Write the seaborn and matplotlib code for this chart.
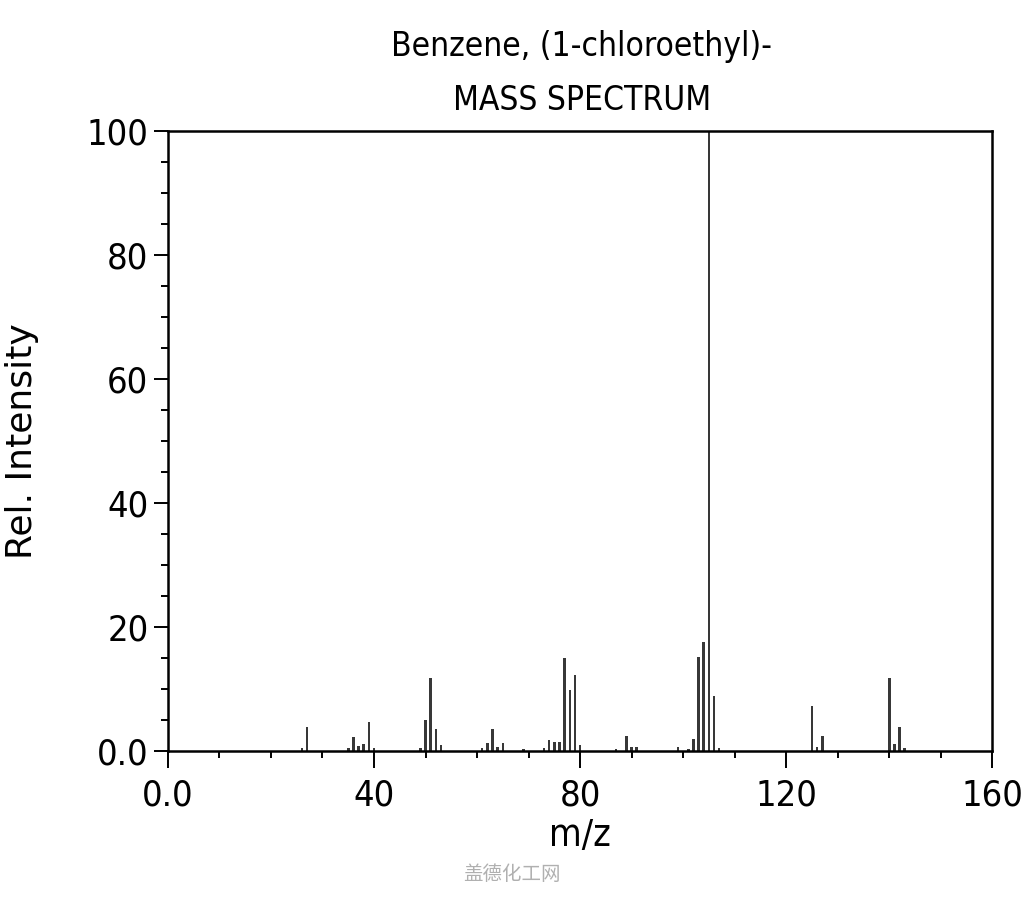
import matplotlib
matplotlib.use("Agg")
import matplotlib.pyplot as plt
from matplotlib.ticker import MultipleLocator, FixedLocator, FixedFormatter
import seaborn as sns

# m/z peaks
mz = [26, 27, 35, 36, 37, 38, 39, 40, 49, 50, 51, 52, 53, 61, 62, 63, 64, 65,
      69, 73, 74, 75, 76, 77, 78, 79, 80, 87, 89, 90, 91, 99, 101, 102, 103,
      104, 105, 106, 107, 125, 126, 127, 140, 141, 142, 143]
intensity = [0.5, 3.8, 0.5, 2.2, 0.8, 1.2, 4.6, 0.5, 0.5, 5.0, 11.8, 3.5, 1.0,
             0.5, 1.3, 3.6, 0.7, 1.3, 0.3, 0.5, 1.8, 1.5, 1.5, 15.0, 9.8, 12.3,
             1.0, 0.3, 2.4, 0.7, 0.7, 0.7, 0.3, 2.0, 15.1, 17.5, 100.0, 8.9,
             0.5, 7.3, 0.6, 2.4, 11.7, 1.2, 3.9, 0.4]

x_ticks = [0, 40, 80, 120, 160]
x_labels = ["0.0", "40", "80", "120", "160"]
y_ticks = [0, 20, 40, 60, 80, 100]
y_labels = ["0.0", "20", "40", "60", "80", "100"]

sns.set_style("ticks")
plt.rcParams['font.family'] = ['DejaVu Sans', 'Noto Sans CJK SC']
plt.rcParams['text.color'] = 'black'
plt.rcParams['axes.labelcolor'] = 'black'
plt.rcParams['xtick.color'] = 'black'
plt.rcParams['ytick.color'] = 'black'
cond = dict(fontstretch='condensed')

fig = plt.figure(figsize=(10.24, 9), dpi=100)
ax = fig.add_axes([0.164, 0.1656, 0.805, 0.6889])

sns.barplot(x=mz, y=intensity, native_scale=True, width=0.5, color='#383838',
            saturation=1, linewidth=0, errorbar=None, ax=ax)

ax.set_xlim(0, 160)
ax.set_ylim(0, 100)
ax.xaxis.set_major_locator(FixedLocator(x_ticks))
ax.xaxis.set_major_formatter(FixedFormatter(x_labels))
ax.xaxis.set_minor_locator(MultipleLocator(10))
ax.yaxis.set_major_locator(FixedLocator(y_ticks))
ax.yaxis.set_major_formatter(FixedFormatter(y_labels))
ax.yaxis.set_minor_locator(MultipleLocator(5))

for s in ax.spines.values():
    s.set_visible(True)
    s.set_linewidth(1.8)
    s.set_color('black')

ax.tick_params(axis='x', which='major', length=12, width=1.4, direction='out',
               labelsize=26, pad=8)
ax.tick_params(axis='x', which='minor', length=5, width=1.4, direction='out')
ax.tick_params(axis='y', which='major', length=10, width=1.4, direction='out',
               labelsize=26, pad=4)
ax.tick_params(axis='y', which='minor', length=5, width=1.4, direction='out')
for lab in ax.get_xticklabels() + ax.get_yticklabels():
    lab.set_fontstretch('condensed')

ax.set_xlabel("m/z", fontsize=27, labelpad=4, **cond)
ax.set_ylabel("Rel. Intensity", fontsize=26, labelpad=34)

fig.text(0.568, 0.948, "Benzene, (1-chloroethyl)-", ha='center', va='center',
         fontsize=24, **cond)
fig.text(0.568, 0.888, "MASS SPECTRUM", ha='center', va='center',
         fontsize=24, **cond)
fig.text(0.5, 0.028, "盖德化工网", ha='center', va='center', fontsize=14,
         color='#b0b0b0', family=['Noto Sans CJK SC', 'DejaVu Sans'])

fig.savefig("out.png", dpi=100)
